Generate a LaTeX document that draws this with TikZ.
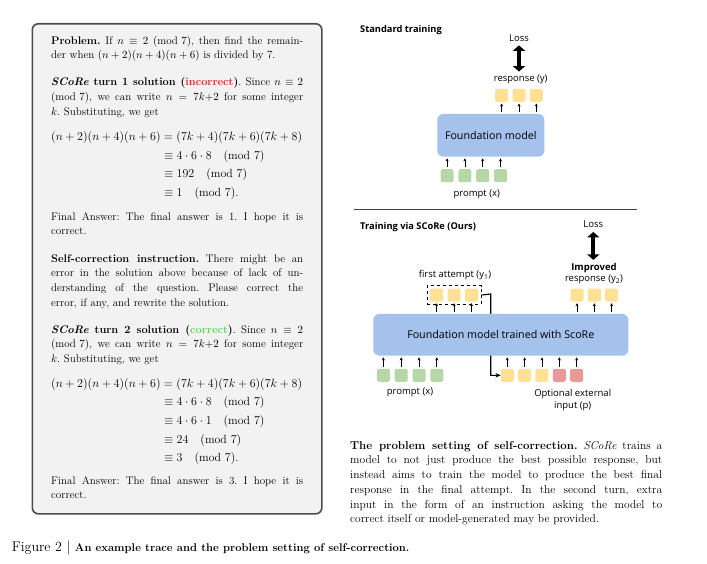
\documentclass[tikz,border=0pt]{standalone}
\usepackage{amsmath,amssymb}
\usepackage{fontspec}
\setsansfont{Open Sans}
\usetikzlibrary{positioning,calc,fit,arrows.meta}
\definecolor{PanelGray}{RGB}{242,242,242}
\definecolor{TokYellow}{RGB}{255,225,150}
\definecolor{TokGreen}{RGB}{182,215,168}
\definecolor{TokRed}{RGB}{234,153,153}
\definecolor{ModelBlue}{RGB}{164,194,236}
\definecolor{WrongRed}{RGB}{224,32,32}
\definecolor{RightGreen}{RGB}{90,214,90}
\newcommand{\bodyfont}{\fontsize{11}{14.6}\selectfont\frenchspacing}
\newcommand{\capfont}{\fontsize{11.5}{14.7}\selectfont\frenchspacing}
\newcommand{\eqnfont}{\fontsize{11.8}{14.6}\selectfont}
\newcommand{\rmod}[1]{\mkern18mu(\operatorname{mod}\,#1)}
\newcommand{\imod}[1]{\mkern8mu(\operatorname{mod}\,#1)}
\setlength{\jot}{4pt}
\tolerance=9999
\tikzset{
  panel/.style={draw=black!70,line width=1.6pt,fill=PanelGray,rounded corners=6pt},
  para/.style={anchor=north west,inner sep=0pt,text width=252pt,align=justify,font=\bodyfont},
  eqn/.style={anchor=west,inner sep=0pt,font=\eqnfont},
  tok/.style={rounded corners=2pt,minimum size=13pt,inner sep=0pt},
  tokY/.style={tok,fill=TokYellow},
  tokG/.style={tok,fill=TokGreen},
  tokR/.style={tok,fill=TokRed},
  model/.style={fill=ModelBlue,rounded corners=6pt,inner sep=0pt,
    font=\sffamily\fontsize{10.7}{12}\selectfont},
  lbl/.style={font=\sffamily\fontsize{9.5}{11.5}\selectfont,inner sep=1pt,align=center},
  ttl/.style={anchor=west,font=\sffamily\bfseries\fontsize{9.3}{11}\selectfont,inner sep=0pt},
  uparr/.style={-{Stealth[length=3pt,width=3pt]},line width=0.8pt,
    shorten <=1.5pt,shorten >=1.5pt},
  lossarr/.style={{Triangle[length=5.5pt,width=12pt]}-{Triangle[length=5.5pt,width=12pt]},
    line width=3.8pt},
  link/.style={-{Stealth[length=5pt,width=4.5pt]},line width=1.1pt},
}

\begin{document}
\begin{tikzpicture}[x=1pt,y=-1pt]
  \useasboundingbox (0,0) rectangle (707,564);

  % example trace
  \node[panel,anchor=north west,minimum width=289.5pt,minimum height=490pt] (trace) at (31.5,23) {};
  \node[para] (prob) at (51,33.8) {\strut\textbf{Problem.} If $n \equiv 2 \imod{7}$, then find the remain-\linebreak
    der when $(n+2)(n+4)(n+6)$ is divided by 7.};
  \node[para] (turn1) at (51,75.5) {\strut\textbf{\textit{SCoRe} turn 1 solution (\textcolor{WrongRed}{incorrect})}. Since $n \equiv 2$\linebreak
    $(\operatorname{mod}\,7)$, we can write $n = 7k{+}2$ for some integer\linebreak
    $k$. Substituting, we get};
  \node[eqn] (eq1) at (51,165.5) {$\begin{aligned}
    (n+2)(n+4)(n+6) &= (7k+4)(7k+6)(7k+8)\\
    &\equiv 4\cdot 6\cdot 8 \rmod{7}\\
    &\equiv 192 \rmod{7}\\
    &\equiv 1 \rmod{7}.
  \end{aligned}$};
  \node[para] (ans1) at (51,209.8) {\strut Final Answer: The final answer is 1. I hope it is\linebreak correct.};
  \node[para] (instr) at (51,251.8) {\strut\textbf{Self-correction instruction.} There might be an\linebreak
    error in the solution above because of lack of un-\linebreak
    derstanding of the question. Please correct the\linebreak
    error, if any, and rewrite the solution.};
  \node[para] (turn2) at (51,322.8) {\strut\textbf{\textit{SCoRe} turn 2 solution (\textcolor{RightGreen}{correct})}. Since $n \equiv 2$\linebreak
    $(\operatorname{mod}\,7)$, we can write $n = 7k{+}2$ for some integer\linebreak
    $k$. Substituting, we get};
  \node[eqn] (eq2) at (51,421.5) {$\begin{aligned}
    (n+2)(n+4)(n+6) &= (7k+4)(7k+6)(7k+8)\\
    &\equiv 4\cdot 6\cdot 8 \rmod{7}\\
    &\equiv 4\cdot 6\cdot 1 \rmod{7}\\
    &\equiv 24 \rmod{7}\\
    &\equiv 3 \rmod{7}.
  \end{aligned}$};
  \node[para] (ans2) at (51,473.8) {\strut Final Answer: The final answer is 3. I hope it is\linebreak correct.};

  % standard training
  \node[ttl] (std) at (360,30) {Standard training};
  \node[model,minimum width=107pt,minimum height=42.7pt] (fm1) at (490.8,135.3) {Foundation model};
  \foreach \i in {1,2,3} {
    \node[tokY] (ys\i) at ({484.4+17.3*\i},95.3) {};
    \draw[uparr] (ys\i |- fm1.north) -- (ys\i.south);
  }
  \foreach \i in {1,...,4} {
    \node[tokG] (xs\i) at ({429.3+17.8*\i},175.7) {};
    \draw[uparr] (xs\i.north) -- (xs\i |- fm1.south);
  }
  \node[lbl] (resp1) at (520.7,79.3) {response (y)};
  \node[lbl] (loss1) at (519,37.7) {Loss};
  \draw[lossarr,shorten <=3pt,shorten >=2pt] (loss1.south) -- (loss1.south |- resp1.north);
  \node[lbl] (pr1) at (476.7,194) {prompt (x)};

  \draw[black!75,line width=0.9pt] (354,209.5) -- (637,209.5);

  % training via SCoRe
  \node[ttl] (ours) at (360,227.3) {Training via SCoRe (Ours)};
  \foreach \i in {1,2,3}
    \node[tokY] (ya\i) at ({419.3+17.4*\i},295) {};
  \node[fit=(ya1)(ya3),draw,dashed,line width=1pt,inner sep=2.8pt] (att) {};
  \node[lbl] (attl) at (455,275) {first attempt (y\textsubscript{1})};
  \foreach \i in {1,2,3}
    \node[tokY] (yr\i) at ({559.7+17.3*\i},295) {};
  \node[lbl] (resp2) at (594,273.6) {\textbf{Improved}\\response (y\textsubscript{2})};
  \node[lbl] (loss2) at (593.3,224.3) {Loss};
  \draw[lossarr,shorten <=3pt,shorten >=2pt] (loss2.south) -- (loss2.south |- resp2.north);

  \foreach \i in {1,...,4}
    \node[tokG] (xp\i) at ({365.6+17.8*\i},375.3) {};
  \foreach \i in {1,2,3}
    \node[tokY] (yp\i) at ({489.9+17.35*\i},375.3) {};
  \foreach \i in {1,2}
    \node[tokR] (rp\i) at ({541.95+17.35*\i},375.3) {};
  \coordinate (bend) at (490.7,294);
  \draw[link] (att.east) -- (bend) |- (yp1.west);

  \node[model,minimum width=255pt,minimum height=41.7pt] (fm2) at (500.8,334.8) {Foundation model trained with ScoRe};
  \foreach \n in {ya1,ya2,ya3,yr1,yr2,yr3}
    \draw[uparr] (\n |- fm2.north) -- (\n.south);
  \foreach \n in {xp1,xp2,xp3,xp4,yp1,yp2,yp3,rp1,rp2}
    \draw[uparr] (\n.north) -- (\n |- fm2.south);
  \node[lbl] (pr2) at (410,392.7) {prompt (x)};
  \node[lbl] (ext) at (572.7,400) {Optional external\\input (p)};

  % captions
  \node[para,text width=312pt,font=\capfont] (cap) at (350,438.8) {\strut\textbf{The problem setting of self-correction.} \textit{SCoRe} trains a\linebreak
    model to not just produce the best possible response, but\linebreak
    instead aims to train the model to produce the best final\linebreak
    response in the final attempt. In the second turn, extra\linebreak
    input in the form of an instruction asking the model to\linebreak
    correct itself or model-generated may be provided.};
  \node[anchor=base west,inner sep=0pt] (fig) at (11.7,551) {\fontsize{14}{16}\selectfont Figure 2 | \fontsize{11.2}{13}\selectfont\bfseries An example trace and the problem setting of self-correction.};
\end{tikzpicture}
\end{document}
